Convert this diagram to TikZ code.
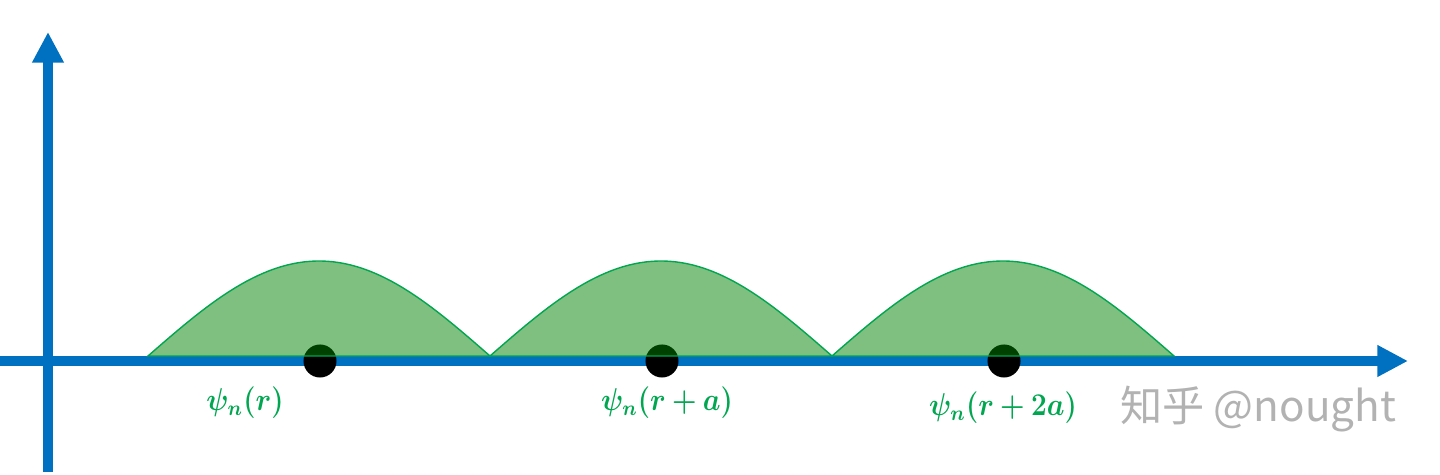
\documentclass[tikz,border=0pt]{standalone}
\usepackage{amsmath,amssymb}
\usepackage{bm}
\usepackage{fontspec}
\newfontfamily\cjk{Noto Sans CJK SC}
\usepackage{tikz}
\usetikzlibrary{arrows.meta}
\definecolor{axisblue}{RGB}{0,112,192}
\definecolor{humpline}{RGB}{0,166,80}
\definecolor{humpfill}{RGB}{0,128,0}
\definecolor{labelgreen}{RGB}{0,166,80}
\newcommand{\wavetext}[1]{\scalebox{1.33}[1.5]{\large$\bm{#1}$}}
\tikzset{axis/.style={draw=axisblue,line width=5.6pt,
		-{Triangle[length=17.5pt,width=17pt,fill=axisblue]}},
	site/.style={circle,fill=black,inner sep=0pt,minimum size=18.8pt},
	hump/.style={fill=humpfill,fill opacity=0.5,draw=humpline,line width=0.8pt},
	wavelabel/.style={text=labelgreen},
	mark text/.style={text=black!30,font=\cjk\fontsize{24}{28}\selectfont}}

\begin{document}
\begin{tikzpicture}[x=0.02cm,y=0.02cm]
		\useasboundingbox (0,0) rectangle (1440,475);
		% axes
		\coordinate (O1) at (0,114);
		\coordinate (X) at (1408,114);
		\coordinate (O2) at (48,3);
		\coordinate (Y) at (48,443);
		\draw [axis] (O1) -- (X);
		\draw [axis] (O2) -- (Y);
		% lattice sites
		\node [site] (S0) at (320,114) {};
		\node [site] (S1) at (662,114) {};
		\node [site] (S2) at (1004,114) {};
		% wave packets
		\foreach \s in {148,490,832}
			\draw [hump] plot[domain=0:180,samples=60] ({\s+1.9*\x},{119+95*sin(\x)}) -- cycle;
		% labels
		\node [wavelabel] (L0) at (245,72) {\wavetext{\psi_n(r)}};
		\node [wavelabel] (L1) at (667,72) {\wavetext{\psi_n(r+a)}};
		\node [wavelabel] (L2) at (1003,67) {\wavetext{\psi_n(r+2a)}};
		\node [mark text] (W) at (1258,66) {知乎 @nought};
	\end{tikzpicture}
\end{document}
